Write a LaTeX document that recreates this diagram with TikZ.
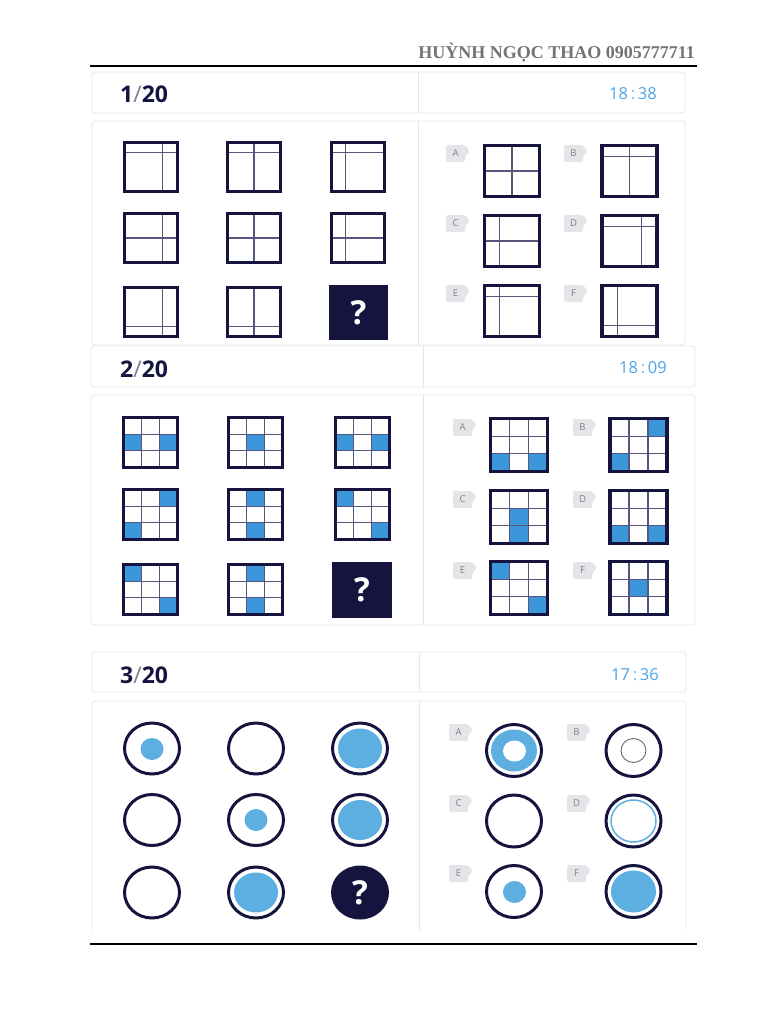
\documentclass[tikz,border=0pt]{standalone}
\usepackage{fontspec}
\setmainfont{Open Sans}
\newfontfamily\serifhd{Liberation Serif}
\definecolor{marinho}{HTML}{15143F}
\definecolor{linhafina}{HTML}{56567F}
\definecolor{azulgrade}{HTML}{3B96DA}
\definecolor{azulcirc}{HTML}{5DAFE2}
\definecolor{azultempo}{HTML}{4BA5EA}
\definecolor{cinzaborda}{HTML}{E4E6E9}
\definecolor{cinzatag}{HTML}{E3E5E9}
\definecolor{cinzatexto}{HTML}{737373}
% barra e dois-pontos mais claros
\newcommand{\barra}{{\mdseries\color{marinho!55}/}}
\newcommand{\pontos}{\,{\color{azultempo!75}:}\,}
% janela: centro, largura, altura, fracao vertical, fracao horizontal
\newcommand{\janela}[6]{%
  \draw[fina] ({#1-#3/2+#5*#3},{#2-#4/2}) -- ++(0,#4);
  \draw[fina] ({#1-#3/2},{#2-#4/2+#6*#4}) -- ++(#3,0);
  \draw[moldura] ({#1-#3/2},{#2-#4/2}) rectangle ++(#3,#4);
}
% grade 3x3: centro, largura, altura, celulas linha/coluna
\newcommand{\grade}[5]{%
  \foreach \l/\c in {#5}
    \fill[azulgrade] ({#1-#3/2+(\c-1)*#3/3},{#2-#4/2+(\l-1)*#4/3}) rectangle ++({#3/3},{#4/3});
  \foreach \k in {1,2} {
    \draw[fina] ({#1-#3/2+\k*#3/3},{#2-#4/2}) -- ++(0,#4);
    \draw[fina] ({#1-#3/2},{#2-#4/2+\k*#4/3}) -- ++(#3,0);
  }
  \draw[moldura] ({#1-#3/2},{#2-#4/2}) rectangle ++(#3,#4);
}
% etiqueta das alternativas
\newcommand{\etiqueta}[4]{%
  \fill[cinzatag, rounded corners=2pt] ({#1-12},{#2-8}) -- ({#1+7},{#2-8}) -- ({#1+12},{#2-2}) -- ({#1+7},{#2+3}) -- ({#1+7},{#2+9}) -- ({#1-12},{#2+9}) -- cycle;
  \node[rotulo] (#4) at ({#1-2.5},{#2+0.5}) {#3};
}

\begin{document}
\begin{tikzpicture}[x=1pt, y=-1pt,
    moldura/.style={draw=marinho, line width=3.6pt},
    fina/.style={draw=linhafina, line width=1.3pt},
    anel/.style={draw=marinho, line width=3pt},
    caixa/.style={draw=cinzaborda, line width=0.8pt, rounded corners=3pt, fill=white},
    numero/.style={font=\bfseries\fontsize{23}{26}\selectfont, text=marinho, inner sep=0},
    tempo/.style={font=\fontsize{16.5}{19}\selectfont, text=azultempo, inner sep=0},
    rotulo/.style={font=\fontsize{9.5}{10}\selectfont, text=cinzatexto!90, inner sep=0},
    interrog/.style={font=\bfseries\fontsize{33}{36}\selectfont, text=white, inner sep=0}]
  \useasboundingbox (0,0) rectangle (768,1024);
  % Cabecalho
  \node[anchor=base east, font=\serifhd\bfseries\fontsize{18}{20}\selectfont, text=cinzatexto, inner sep=0] (autor) at (695,59) {HUỲNH NGỌC THAO 0905777711};
  \draw[line width=2pt] (90,66) -- (697,66);
  \draw[line width=2pt] (90,944) -- (697,944);

  % Questao 1
  \draw[caixa] (92,121) rectangle (685,345);
  \draw[cinzaborda, line width=0.8pt] (418,121) -- (418,345);
  \draw[caixa] (92,72) rectangle (685,113);
  \draw[cinzaborda, line width=0.8pt] (418,72) -- (418,113);
  \node[numero, anchor=base west] (q1) at (120,103) {1\barra20};
  \node[tempo, anchor=base east] (t1) at (657,100) {18\pontos38};
  \janela{151}{167}{53}{49}{0.72}{0.2}
  \janela{254}{167}{53}{49}{0.5}{0.2}
  \janela{358}{167}{53}{49}{0.26}{0.2}
  \janela{151}{238}{53}{49}{0.72}{0.5}
  \janela{254}{238}{53}{49}{0.5}{0.5}
  \janela{358}{238}{53}{49}{0.26}{0.5}
  \janela{151}{312}{53}{49}{0.72}{0.79}
  \janela{254}{312}{53}{49}{0.5}{0.79}
  \fill[marinho] (329,285) rectangle (388,340);
  \node[interrog] (p1) at (358.5,312.5) {?};
  % alternativas 1
  \etiqueta{458}{153}{A}{a1}
  \etiqueta{576}{153}{B}{b1}
  \etiqueta{458}{223}{C}{c1}
  \etiqueta{576}{223}{D}{d1}
  \etiqueta{458}{293}{E}{e1}
  \etiqueta{576}{293}{F}{f1}
  \janela{512}{171}{55}{51}{0.5}{0.5}
  \janela{629.5}{171}{55}{51}{0.5}{0.22}
  \janela{512}{241}{55}{51}{0.27}{0.5}
  \janela{629.5}{241}{55}{51}{0.72}{0.22}
  \janela{512}{311}{55}{51}{0.27}{0.22}
  \janela{629.5}{311}{55}{51}{0.28}{0.78}

  % Questao 2
  \draw[caixa] (91,395) rectangle (695,625);
  \draw[cinzaborda, line width=0.8pt] (423,395) -- (423,625);
  \draw[caixa] (91,346) rectangle (695,387);
  \draw[cinzaborda, line width=0.8pt] (423,346) -- (423,387);
  \node[numero, anchor=base west] (q2) at (120,377) {2\barra20};
  \node[tempo, anchor=base east] (t2) at (667,373) {18\pontos09};
  \grade{150.5}{442.5}{54}{50}{2/1,2/3}
  \grade{255.5}{442.5}{54}{50}{2/2}
  \grade{362.5}{442.5}{54}{50}{2/1,2/3}
  \grade{150.5}{514.5}{54}{50}{1/3,3/1}
  \grade{255.5}{514.5}{54}{50}{1/2,3/2}
  \grade{362.5}{514.5}{54}{50}{1/1,3/3}
  \grade{150.5}{589.5}{54}{50}{1/1,3/3}
  \grade{255.5}{589.5}{54}{50}{1/2,3/2}
  \fill[marinho] (332,562) rectangle (392,618);
  \node[interrog] (p2) at (362,590) {?};
  % alternativas 2
  \etiqueta{465}{427}{A}{a2}
  \etiqueta{585}{427}{B}{b2}
  \etiqueta{465}{499}{C}{c2}
  \etiqueta{585}{499}{D}{d2}
  \etiqueta{465}{570}{E}{e2}
  \etiqueta{585}{570}{F}{f2}
  \grade{519}{445}{57}{53}{3/1,3/3}
  \grade{638.5}{445}{57}{53}{1/3,3/1}
  \grade{519}{517}{57}{53}{2/2,3/2}
  \grade{638.5}{517}{57}{53}{3/1,3/3}
  \grade{519}{588}{57}{53}{1/1,3/3}
  \grade{638.5}{588}{57}{53}{2/2}

  % Questao 3
  \draw[cinzaborda, line width=0.8pt, rounded corners=3pt] (92,930) -- (92,701) -- (686,701) -- (686,930);
  \draw[cinzaborda, line width=0.8pt] (419,701) -- (419,930);
  \draw[caixa] (92,652) rectangle (686,692);
  \draw[cinzaborda, line width=0.8pt] (419,652) -- (419,692);
  \node[numero, anchor=base west] (q3) at (120,683) {3\barra20};
  \node[tempo, anchor=base east] (t3) at (659,680) {17\pontos36};
  % preenchimentos
  \fill[azulcirc] (152,749) ellipse[x radius=11.5pt, y radius=11pt];
  \fill[azulcirc] (360,748.5) ellipse[x radius=22pt, y radius=20pt];
  \fill[azulcirc] (256,820) ellipse[x radius=11.5pt, y radius=11pt];
  \fill[azulcirc] (360,820) ellipse[x radius=22pt, y radius=20pt];
  \fill[azulcirc] (256,892.5) ellipse[x radius=22pt, y radius=20pt];
  % aneis
  \foreach \x in {152,256,360}
    \foreach \y in {748.5,820}
      \draw[anel] (\x,\y) ellipse[x radius=27.5pt, y radius=25.5pt];
  \draw[anel] (152,892.5) ellipse[x radius=27.5pt, y radius=25.5pt];
  \draw[anel] (256,892.5) ellipse[x radius=27.5pt, y radius=25.5pt];
  \fill[marinho] (360,892.5) ellipse[x radius=29pt, y radius=27pt];
  \node[interrog] (p3) at (360,892.5) {?};
  % alternativas 3
  \etiqueta{461}{732}{A}{a3}
  \etiqueta{579}{732}{B}{b3}
  \etiqueta{461}{803}{C}{c3}
  \etiqueta{579}{803}{D}{d3}
  \etiqueta{461}{873}{E}{e3}
  \etiqueta{579}{873}{F}{f3}
  \fill[azulcirc] (514,750.5) ellipse[x radius=23pt, y radius=21pt];
  \fill[white] (514.5,751) ellipse[x radius=11.5pt, y radius=10.5pt];
  \draw[gray!80!black, line width=0.9pt] (633.5,750.5) ellipse[x radius=12.5pt, y radius=12pt];
  \draw[azulcirc, line width=1.5pt] (633.5,821) ellipse[x radius=22.5pt, y radius=21pt];
  \fill[azulcirc] (514.5,892) ellipse[x radius=11.5pt, y radius=11pt];
  \fill[azulcirc] (633.5,891.5) ellipse[x radius=22.5pt, y radius=21pt];
  \foreach \x in {514,633.5}
    \foreach \y in {750.5,821,891.5}
      \draw[anel] (\x,\y) ellipse[x radius=27.5pt, y radius=26pt];
\end{tikzpicture}
\end{document}
